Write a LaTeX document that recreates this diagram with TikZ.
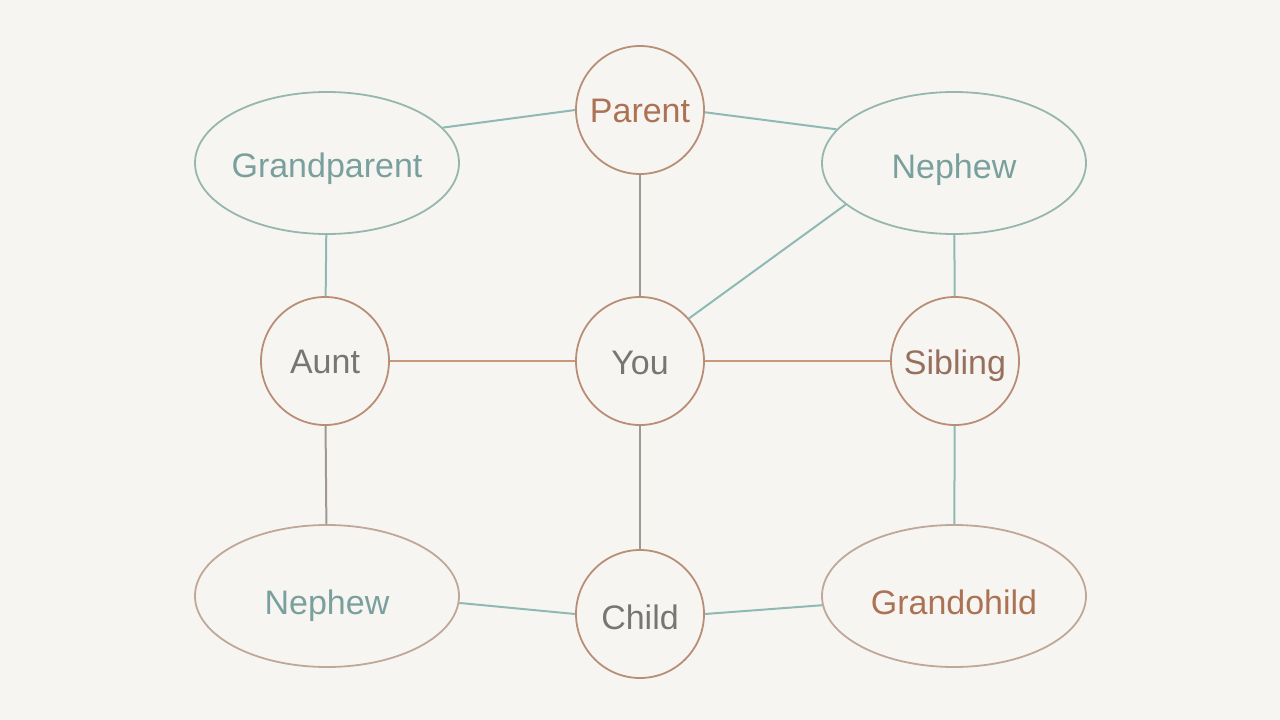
\documentclass[tikz,border=0pt]{standalone}
\usepackage{fontspec}
\setmainfont{Liberation Sans}
\usetikzlibrary{shapes.geometric}
\definecolor{bgc}{RGB}{247,245,242}
\definecolor{tealline}{RGB}{143,186,180}
\definecolor{brownline}{RGB}{200,152,124}
\definecolor{grayline}{RGB}{160,152,145}
\definecolor{circstroke}{RGB}{185,142,118}
\definecolor{ellteal}{RGB}{150,182,176}
\definecolor{ellbrown}{RGB}{192,168,152}
\definecolor{txtteal}{RGB}{122,160,158}
\definecolor{txtbrown}{RGB}{172,114,84}
\definecolor{txtgray}{RGB}{118,118,114}
\definecolor{txtsib}{RGB}{150,112,92}
\newcommand{\lbl}[2][0pt]{\makebox[0pt]{\raisebox{#1}{#2}}}
\begin{document}
\begin{tikzpicture}[x=1pt,y=-1pt,
  txt/.style={font=\fontsize{34}{34}\selectfont,text height=24.4pt,text depth=0pt},
  circnode/.style={circle,draw=circstroke,line width=1.8pt,minimum size=128pt,inner sep=0pt,txt},
  ellnode/.style={ellipse,line width=1.8pt,minimum width=264pt,minimum height=142pt,inner sep=0pt,txt},
  tl/.style={draw=tealline,line width=2pt},
  bl/.style={draw=brownline,line width=2pt},
  gl/.style={draw=grayline,line width=2pt}]
\fill[bgc] (0,0) rectangle (1280,720);
\useasboundingbox (0,0) rectangle (1280,720);
% nodes
\node[circnode,text=txtbrown] (parent) at (640,110) {\lbl{Parent}};
\node[circnode,text=txtgray] (you) at (640,361) {\lbl[-1pt]{You}};
\node[circnode,text=txtgray] (child) at (640,614) {\lbl[-3pt]{Child}};
\node[circnode,text=txtgray] (aunt) at (325,361) {\lbl{Aunt}};
\node[circnode,text=txtsib] (sibling) at (955,361) {\lbl[-1pt]{Sibling}};
\node[ellnode,draw=ellteal,text=txtteal] (gp) at (327,163) {\lbl[-2pt]{Grandparent}};
\node[ellnode,draw=ellteal,text=txtteal] (nephtr) at (954,163) {\lbl[-3pt]{Nephew}};
\node[ellnode,draw=ellbrown,text=txtteal] (nephbl) at (327,596) {\lbl[-6pt]{Nephew}};
\node[ellnode,draw=ellbrown,text=txtbrown] (gc) at (954,596) {\lbl[-6pt]{Grandohild}};
% connectors
\draw[tl] (gp.17) -- (parent.180);
\draw[tl] (parent.-2) -- (nephtr.164);
\draw[tl] (nephtr.201) -- (you.41);
\draw[gl] (parent) -- (you);
\draw[tl] (gp) -- (aunt);
\draw[tl] (nephtr) -- (sibling);
\draw[bl] (aunt) -- (you);
\draw[bl] (you) -- (sibling);
\draw[gl] (aunt) -- (nephbl);
\draw[gl] (you) -- (child);
\draw[tl] (sibling) -- (gc);
\draw[tl] (nephbl.-3) -- (child.180);
\draw[tl] (child.0) -- (gc.184);
\end{tikzpicture}
\end{document}
